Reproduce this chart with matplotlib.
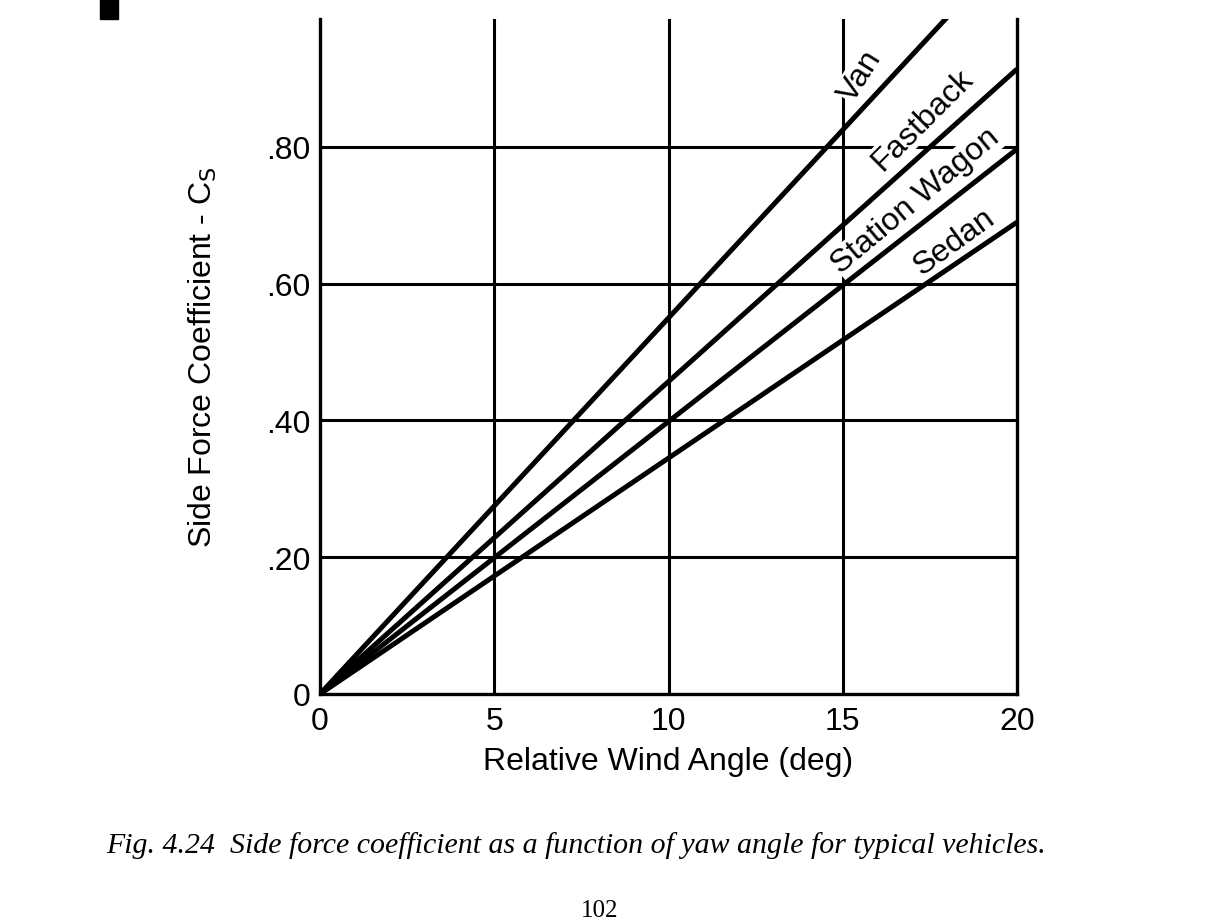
import matplotlib
matplotlib.use("Agg")
import matplotlib.pyplot as plt
from matplotlib.patches import Rectangle

# data (straight lines through the origin)
angle = [0, 20]
van = [0, 1.10]
fastback = [0, 0.914]
wagon = [0, 0.797]
sedan = [0, 0.690]

xticks = [0, 5, 10, 15, 20]
yticks = [0, 0.2, 0.4, 0.6, 0.8]
ytick_labels = ["0", ".20", ".40", ".60", ".80"]

# label placement (x, y, rotation)
labels = [("Van", 15.5, 0.905, 58),
          ("Fastback", 17.3, 0.84, 45),
          ("Station Wagon", 17.1, 0.722, 40),
          ("Sedan", 18.2, 0.662, 36)]

plt.rcParams['font.family'] = ['Liberation Sans', 'DejaVu Sans']
fs = 23

fig = plt.figure(figsize=(12.08, 9.2), dpi=100)
ax = fig.add_axes([320/1208, 1-695/920, 697/1208, 675/920])

ax.set_xlim(0, 20)
ax.set_ylim(0, (695-20)/683.75)

for x in xticks[1:-1]:
    ax.axvline(x, color='black', lw=2.2, zorder=1)
for y in yticks[1:]:
    ax.axhline(y, color='black', lw=2.2, zorder=1)

for ys in [van, fastback, wagon, sedan]:
    ax.plot(angle, ys, color='black', lw=3.6, solid_capstyle='butt', zorder=3)

for name, x, y, rot in labels:
    ax.text(x, y, name, rotation=rot, rotation_mode='anchor', ha='center', va='center',
            fontsize=fs, zorder=2,
            bbox=dict(facecolor='white', edgecolor='none', pad=0.5))

ax.set_xticks(xticks)
ax.set_xticklabels([str(v) for v in xticks])
ax.set_yticks(yticks)
ax.set_yticklabels(ytick_labels)
ax.tick_params(length=0, labelsize=fs)
ax.tick_params(axis='x', pad=9)
ax.tick_params(axis='y', pad=7)

ax.spines['top'].set_visible(False)
for s in ['left', 'right', 'bottom']:
    ax.spines[s].set_linewidth(2.4)

ax.set_xlabel("Relative Wind Angle (deg)", fontsize=fs, labelpad=7)
ax.set_ylabel("Side Force Coefficient - C$_{\\mathrm{S}}$", fontsize=fs, labelpad=34)

fig.text(106/1208, 1-846/920,
         "Fig. 4.24  Side force coefficient as a function of yaw angle for typical vehicles.",
         family='Liberation Serif', style='italic', fontsize=21.5, va='center', ha='left')
fig.text(600/1208, 1-917/920, "102", family='Liberation Serif', fontsize=18,
         ha='center', va='baseline')

# change bar in the scanned page margin
fig.patches.append(Rectangle((100/1208, 1-20/920), 18/1208, 20/920,
                             transform=fig.transFigure, color='black'))

fig.savefig("out.png", dpi=100)
